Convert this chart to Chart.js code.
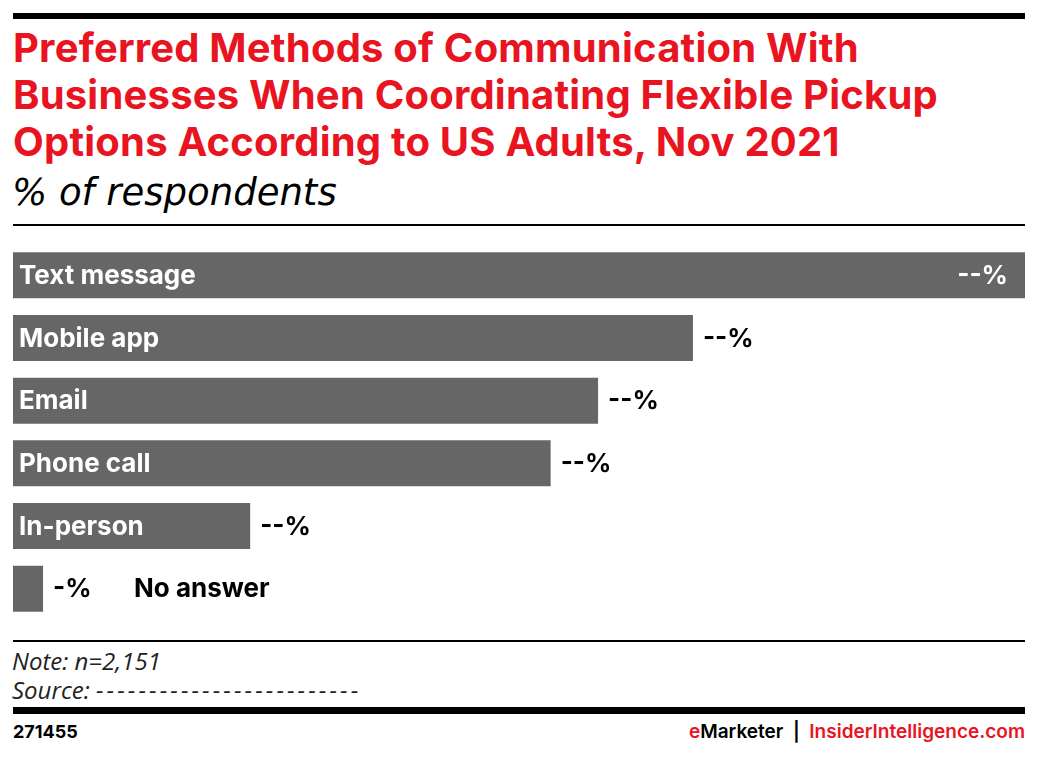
<!DOCTYPE html>
<html>
<head>
<meta charset="utf-8">
<script src="https://cdn.jsdelivr.net/npm/chart.js@4"></script>
<style>
  html, body { margin: 0; padding: 0; background: #fff; }
  body { width: 1038px; height: 757px; position: relative; overflow: hidden; font-family: Inter, "Noto Sans", sans-serif; }
  .rule { position: absolute; left: 13px; width: 1012px; background: #000; }
  #title { position: absolute; left: 13px; top: 24px; margin: 0; color: #e8141f; font-weight: 700; font-size: 40px; line-height: 47px; letter-spacing: 0.2px; white-space: nowrap; }
  #subtitle { position: absolute; left: 12px; top: 171px; margin: 0; font-family: "DejaVu Sans", sans-serif; font-style: italic; font-size: 37px; line-height: 44px; color: #000; }
  #wrap { position: absolute; left: 13px; top: 244px; width: 1012px; height: 376px; }
  .note { position: absolute; left: 12px; font-family: "Open Sans", sans-serif; font-style: italic; font-size: 24px; line-height: 30px; color: #222; }
  .dash { letter-spacing: 3.1px; }
  #code { position: absolute; left: 13px; top: 721px; font-weight: 700; font-size: 18px; }
  #brand { position: absolute; right: 13px; top: 720px; font-weight: 600; font-size: 19px; color: #000; }
  .red { color: #e8141f; }
</style>
</head>
<body>
<div class="rule" style="top:13px;height:6px"></div>
<h1 id="title">Preferred Methods of Communication With<br>Businesses When Coordinating Flexible Pickup<br>Options According to US Adults, Nov 2021</h1>
<div id="subtitle">% of respondents</div>
<div class="rule" style="top:224px;height:2px"></div>
<div id="wrap"><canvas id="chart"></canvas></div>
<div class="rule" style="top:640px;height:2px"></div>
<div class="note" style="top:646px">Note: n=2,151</div>
<div class="note" style="top:675px">Source: <span class="dash">-------------------------</span></div>
<div class="rule" style="top:707px;height:7px"></div>
<div id="code">271455</div>
<div id="brand"><span class="red">e</span>Marketer &nbsp;|&nbsp; <span class="red">InsiderIntelligence.com</span></div>
<script>
// --- DATOS ---
const categories = ['Text message', 'Mobile app', 'Email', 'Phone call', 'In-person', 'No answer'];
const values = [64, 43, 37, 34, 15, 1.9];
const valueLabels = ['--%', '--%', '--%', '--%', '--%', '-%'];

const labelFont = '700 26px Inter, "Noto Sans", sans-serif';

// Etiquetas dentro y fuera de las barras
const barLabels = {
    id: 'barLabels',
    afterDatasetsDraw(chart) {
        const ctx = chart.ctx;
        const meta = chart.getDatasetMeta(0);
        ctx.save();
        ctx.font = labelFont;
        ctx.textBaseline = 'middle';
        meta.data.forEach((bar, i) => {
            const y = bar.y + 1;
            const left = bar.base;
            const right = bar.x;
            const narrow = (right - left) < 80;
            const full = right > chart.chartArea.right - 60;
            if (!narrow) {
                ctx.fillStyle = '#fff';
                ctx.textAlign = 'left';
                ctx.fillText(categories[i], left + 6, y);
            }
            if (full) {
                ctx.fillStyle = '#fff';
                ctx.textAlign = 'right';
                ctx.fillText(valueLabels[i], right - 17, y);
            } else {
                ctx.fillStyle = '#000';
                ctx.textAlign = 'left';
                ctx.fillText(valueLabels[i], right + 10, y);
                if (narrow) {
                    ctx.fillText(categories[i], right + 91, y);
                }
            }
        });
        ctx.restore();
    }
};

new Chart(document.getElementById('chart'), {
    type: 'bar',
    data: {
        labels: categories,
        datasets: [{
            data: values,
            backgroundColor: '#666666',
            borderWidth: 0,
            barPercentage: 0.735,
            categoryPercentage: 1
        }]
    },
    options: {
        indexAxis: 'y',
        responsive: true,
        maintainAspectRatio: false,
        animation: false,
        layout: { padding: 0 },
        plugins: { legend: { display: false }, tooltip: { enabled: false } },
        scales: {
            x: { min: 0, max: values[0], display: false },
            y: { display: false }
        }
    },
    plugins: [barLabels]
});
</script>
</body>
</html>
